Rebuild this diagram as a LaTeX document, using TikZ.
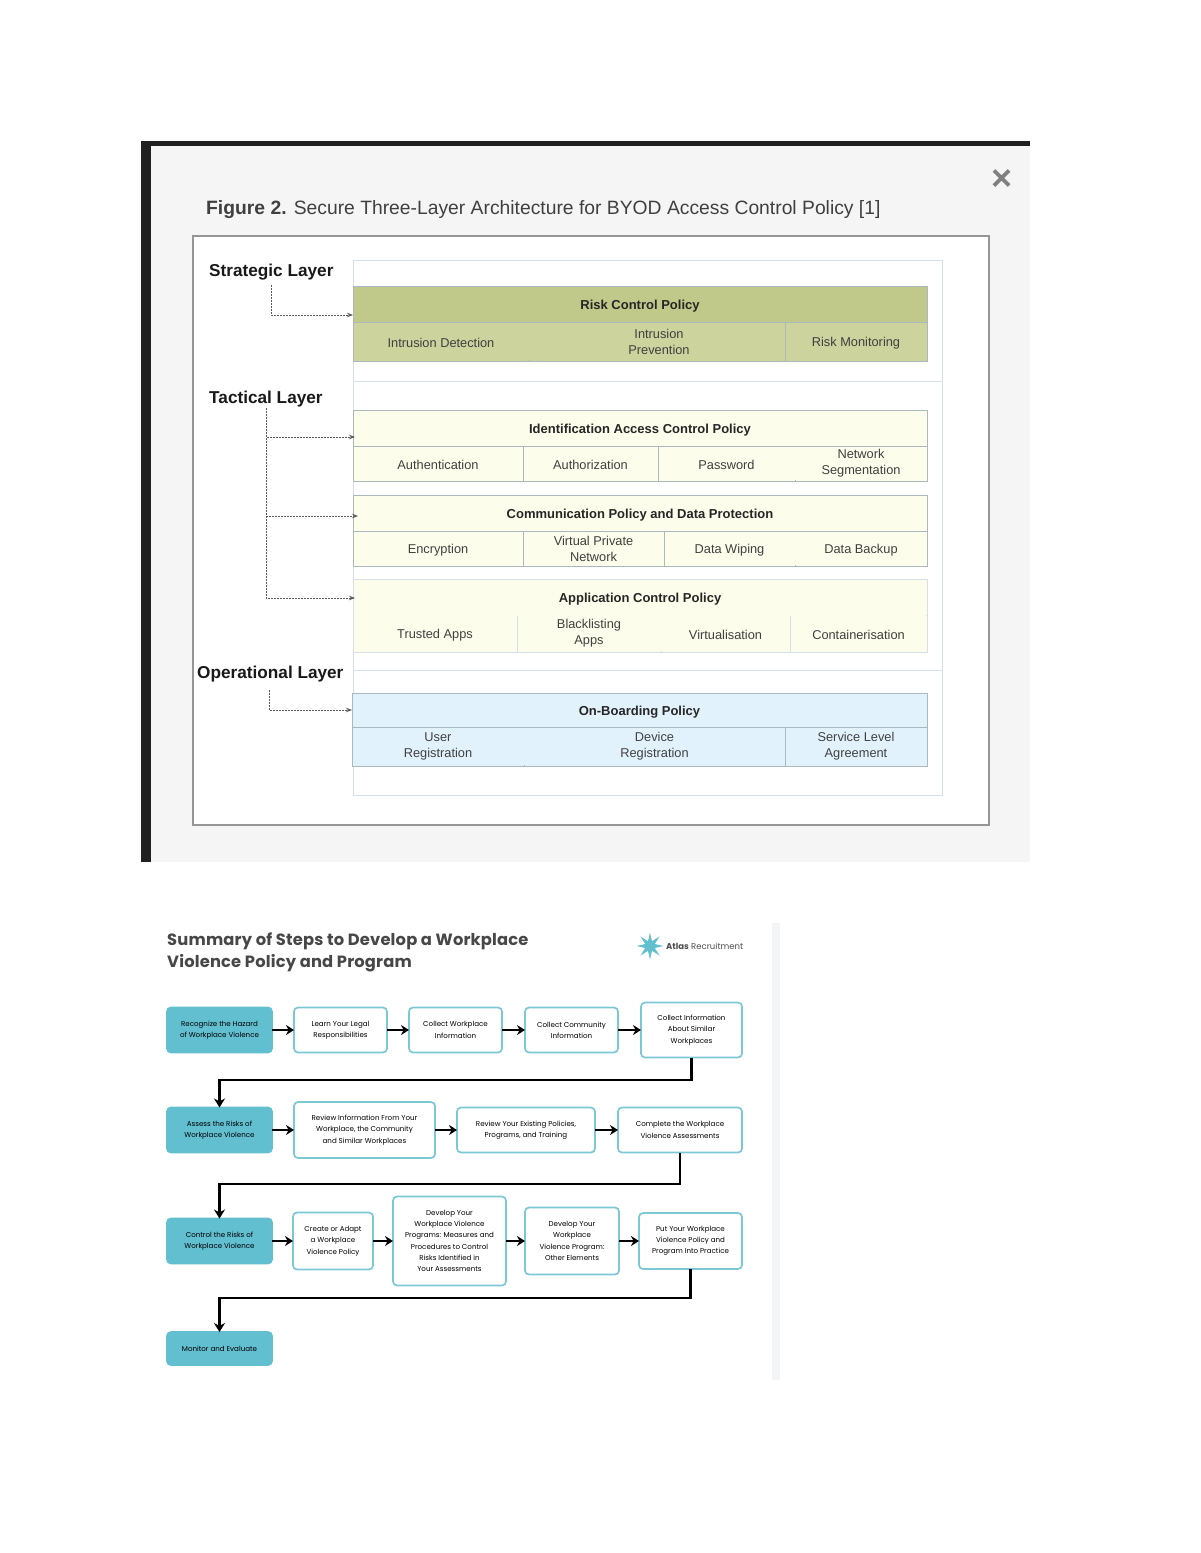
\documentclass[tikz,border=0pt]{standalone}
\usepackage{fontspec}
\setmainfont{Liberation Sans}
\newfontfamily\flowfont{Poppins}
\newfontfamily\flowtitle[LetterSpace=1.1]{Poppins}
\usetikzlibrary{shapes.geometric,arrows.meta,positioning,calc}
\definecolor{darkbar}{RGB}{32,32,32}
\definecolor{modalgrey}{RGB}{245,245,245}
\definecolor{framegrey}{RGB}{150,150,150}
\definecolor{panelline}{RGB}{214,224,232}
\definecolor{cellline}{RGB}{170,185,190}
\definecolor{riskhead}{RGB}{192,201,138}
\definecolor{risksub}{RGB}{204,211,156}
\definecolor{tacticfill}{RGB}{253,253,236}
\definecolor{onboardfill}{RGB}{226,242,252}
\definecolor{flowteal}{RGB}{98,191,208}
\definecolor{flowline}{RGB}{124,200,212}
\definecolor{stripgrey}{RGB}{243,244,246}

\begin{document}
\begin{tikzpicture}[x=1pt, y=-1pt,
 head/.style={rectangle, draw=cellline, line width=0.8pt, outer sep=0pt, minimum width=574pt, minimum height=36pt, anchor=north west, align=center, text=black!85, font=\fontsize{13}{14}\selectfont\bfseries, execute at begin node={\rule{0pt}{13pt}}},
 cell/.style={rectangle, draw=cellline, line width=0.6pt, outer sep=0pt, minimum height=35pt, anchor=north west, align=center, inner sep=0pt, text=black!75, font=\fontsize{12.8}{16}\selectfont, execute at begin node={\rule{0pt}{12.5pt}}},
 layer/.style={anchor=west, inner sep=0pt, text=black!90, font=\fontsize{17.2}{19}\selectfont\bfseries},
 panel/.style={rectangle, draw=panelline, fill=white, line width=1pt, outer sep=0pt, minimum width=589pt, anchor=north west},
 feed/.style={draw=black!65, line width=0.8pt, dash pattern=on 2pt off 1pt, -{Stealth[length=6pt]}},
 seam/.style={draw=#1, line width=1.2pt, shorten >=1pt, shorten <=1pt},
 flowbox/.style={rectangle, draw=flowline, fill=white, line width=1.7pt, rounded corners=4pt, outer sep=0pt, align=center, inner sep=0pt, text=black, font=\flowfont\fontsize{7.1}{11.3}\selectfont},
 stage/.style={flowbox, draw=flowteal, fill=flowteal, minimum width=105pt, minimum height=45pt},
 go/.style={draw=black, line width=2.6pt, -{Stealth[length=8pt, width=10pt]}},
 turn/.style={draw=black, line width=2.4pt, -{Stealth[length=9pt, width=11pt]}}]

\useasboundingbox (0,0) rectangle (1200,1553);

% screenshot background
\fill[modalgrey] (141,141) rectangle (1030,862);
\fill[darkbar] (141,141) rectangle (151,862);
\fill[darkbar] (141,141) rectangle (1030,146);
\fill[stripgrey] (772,923) rectangle (780,1380);

\node[text=black!50, font=\fontsize{36}{36}\selectfont\bfseries] (close) at (1002,180) {×};
\node[anchor=west, inner sep=0pt, text=black!75, font=\fontsize{19.3}{22}\selectfont] (figtitle) at (206,210) {\textbf{Figure 2.} Secure Three-Layer Architecture for BYOD Access Control Policy [1]};

\node[rectangle, draw=framegrey, fill=white, line width=1.5pt, minimum width=796pt, minimum height=589pt, anchor=north west, outer sep=0pt] (frame) at (193,236) {};

\node[panel, minimum height=121pt] (strategicpanel) at (353,260) {};
\node[panel, minimum height=289pt] (tacticalpanel) at (353,381) {};
\node[panel, minimum height=125pt] (operationalpanel) at (353,670) {};

% strategic layer
\node[layer] (strategic) at (209,272.5) {Strategic Layer};
\node[head, fill=riskhead] (risk) at (353,286) {Risk Control Policy};
\node[cell, fill=risksub, minimum width=176pt, minimum height=39pt] (detect) at (risk.south west) {Intrusion Detection};
\node[cell, fill=risksub, minimum width=256pt, minimum height=39pt] (prevent) at (detect.north east) {\hspace*{4pt}Intrusion\\\hspace*{4pt}Prevention};
\node[cell, fill=risksub, minimum width=142pt, minimum height=39pt] (monitor) at (prevent.north east) {Risk Monitoring};
\draw[seam=risksub] (detect.north east) -- (detect.south east);

% tactical layer
\node[layer] (tactical) at (209,399.5) {Tactical Layer};
\node[head, fill=tacticfill] (identify) at (353,410) {Identification Access Control Policy};
\node[cell, fill=tacticfill, minimum width=170pt] (authn) at (identify.south west) {Authentication};
\node[cell, fill=tacticfill, minimum width=135pt] (authz) at (authn.north east) {Authorization};
\node[cell, fill=tacticfill, minimum width=137pt] (password) at (authz.north east) {Password};
\node[cell, fill=tacticfill, minimum width=132pt] (segment) at (password.north east) {Network\\Segmentation};
\draw[seam=tacticfill] (password.north east) -- (password.south east);

\node[head, fill=tacticfill] (comms) at (353,495) {Communication Policy and Data Protection};
\node[cell, fill=tacticfill, minimum width=170pt] (encrypt) at (comms.south west) {Encryption};
\node[cell, fill=tacticfill, minimum width=141pt] (vpn) at (encrypt.north east) {Virtual Private\\Network};
\node[cell, fill=tacticfill, minimum width=131pt] (wipe) at (vpn.north east) {Data Wiping};
\node[cell, fill=tacticfill, minimum width=132pt] (backup) at (wipe.north east) {Data Backup};
\draw[seam=tacticfill] (wipe.north east) -- (wipe.south east);

\node[head, fill=tacticfill, draw=panelline] (apps) at (353,579) {Application Control Policy};
\node[cell, fill=tacticfill, draw=panelline, minimum width=164pt, minimum height=37pt] (trusted) at (apps.south west) {Trusted Apps};
\node[cell, fill=tacticfill, draw=panelline, minimum width=144pt, minimum height=37pt] (blacklist) at (trusted.north east) {Blacklisting\\Apps};
\node[cell, fill=tacticfill, draw=panelline, minimum width=129pt, minimum height=37pt] (virtual) at (blacklist.north east) {Virtualisation};
\node[cell, fill=tacticfill, draw=panelline, minimum width=137pt, minimum height=37pt] (contain) at (virtual.north east) {Containerisation};
\draw[seam=tacticfill] (apps.south west) -- (apps.south east);
\draw[seam=tacticfill] (blacklist.north east) -- (blacklist.south east);

% operational layer
\node[layer] (operational) at (197,674.5) {Operational Layer};
\node[head, fill=onboardfill, minimum width=575pt, minimum height=34pt] (onboard) at (352,693) {On-Boarding Policy};
\node[cell, fill=onboardfill, minimum width=172pt, minimum height=39pt] (userreg) at (onboard.south west) {User\\Registration};
\node[cell, fill=onboardfill, minimum width=261pt, minimum height=39pt] (devicereg) at (userreg.north east) {Device\\Registration};
\node[cell, fill=onboardfill, minimum width=142pt, minimum height=39pt] (sla) at (devicereg.north east) {Service Level\\Agreement};
\draw[seam=onboardfill] (userreg.north east) -- (userreg.south east);

\coordinate (riskin) at (353,315);
\coordinate (identin) at (355,437);
\coordinate (commsin) at (358,516);
\coordinate (appsin) at (355,598);
\coordinate (onboardin) at (352,710);
\coordinate (spine) at (266,408);

\draw[feed] (271,285) |- (riskin);
\draw[feed] (spine) |- (identin);
\draw[feed] (spine) |- (commsin);
\draw[feed] (spine) |- (appsin);
\draw[feed] (269,690) |- (onboardin);

% workplace summary
\node[anchor=north west, align=left, inner sep=0pt, text=black!72, font=\flowtitle\fontsize{16.3}{21.5}\selectfont\bfseries] (sumtitle) at (167,933) {Summary of Steps to Develop a Workplace\\Violence Policy and Program};
\node[star, star points=8, star point ratio=2.6, fill=flowteal, minimum size=27pt, inner sep=0pt] (logo) at (650,946) {};
\node[anchor=west, inner sep=0pt, text=black!70, font=\flowfont\fontsize{8.5}{9}\selectfont] (logotext) at (666,946) {\textbf{Atlas} Recruitment};

% first row
\node[stage] (hazard) at (219.5,1030) {Recognize the Hazard\\of Workplace Violence};
\node[flowbox, minimum width=93pt, minimum height=45pt, right=22pt of hazard] (legal) {Learn Your Legal\\Responsibilities};
\node[flowbox, minimum width=93pt, minimum height=45pt, right=22pt of legal] (workinfo) {Collect Workplace\\Information};
\node[flowbox, minimum width=93pt, minimum height=45pt, right=23pt of workinfo] (comminfo) {Collect Community\\Information};
\node[flowbox, minimum width=101pt, minimum height=55pt, right=23pt of comminfo] (similar) {Collect Information\\About Similar\\Workplaces};

% second row
\node[stage] (assess) at (219.5,1130) {Assess the Risks of\\Workplace Violence};
\node[flowbox, minimum width=141pt, minimum height=56pt, right=22pt of assess] (review) {Review Information From Your\\Workplace, the Community\\and Similar Workplaces};
\node[flowbox, minimum width=138pt, minimum height=45pt, right=22pt of review] (existing) {Review Your Existing Policies,\\Programs, and Training};
\node[flowbox, minimum width=124pt, minimum height=45pt, right=23pt of existing] (complete) {Complete the Workplace\\Violence Assessments};

% third row
\node[stage] (control) at (219.5,1241) {Control the Risks of\\Workplace Violence};
\node[flowbox, minimum width=80pt, minimum height=57pt, right=21pt of control] (adapt) {Create or Adapt\\a Workplace\\Violence Policy};
\node[flowbox, minimum width=113pt, minimum height=89pt, right=20pt of adapt] (measures) {Develop Your\\Workplace Violence\\Programs: Measures and\\Procedures to Control\\Risks Identified in\\Your Assessments};
\node[flowbox, minimum width=94pt, minimum height=67pt, right=19pt of measures] (elements) {Develop Your\\Workplace\\Violence Program:\\Other Elements};
\node[flowbox, minimum width=103pt, minimum height=56pt, right=20pt of elements] (practice) {Put Your Workplace\\Violence Policy and\\Program Into Practice};

% last row
\node[stage, minimum height=33pt] (evaluate) at (219.5,1348.5) {Monitor and Evaluate};

\draw[go] (hazard) -- (legal);
\draw[go] (legal) -- (workinfo);
\draw[go] (workinfo) -- (comminfo);
\draw[go] (comminfo) -- (similar);
\draw[go] (assess) -- (review);
\draw[go] (review) -- (existing);
\draw[go] (existing) -- (complete);
\draw[go] (control) -- (adapt);
\draw[go] (adapt) -- (measures);
\draw[go] (measures) -- (elements);
\draw[go] (elements) -- (practice);

\coordinate (drop1) at (219.5,1080);
\coordinate (drop2) at (219.5,1184);
\coordinate (drop3) at (219.5,1298);

\draw[turn] (similar.south) |- (drop1) -- (assess.north);
\draw[turn] (complete.south) |- (drop2) -- (control.north);
\draw[turn] (practice.south) |- (drop3) -- (evaluate.north);

\end{tikzpicture}
\end{document}
